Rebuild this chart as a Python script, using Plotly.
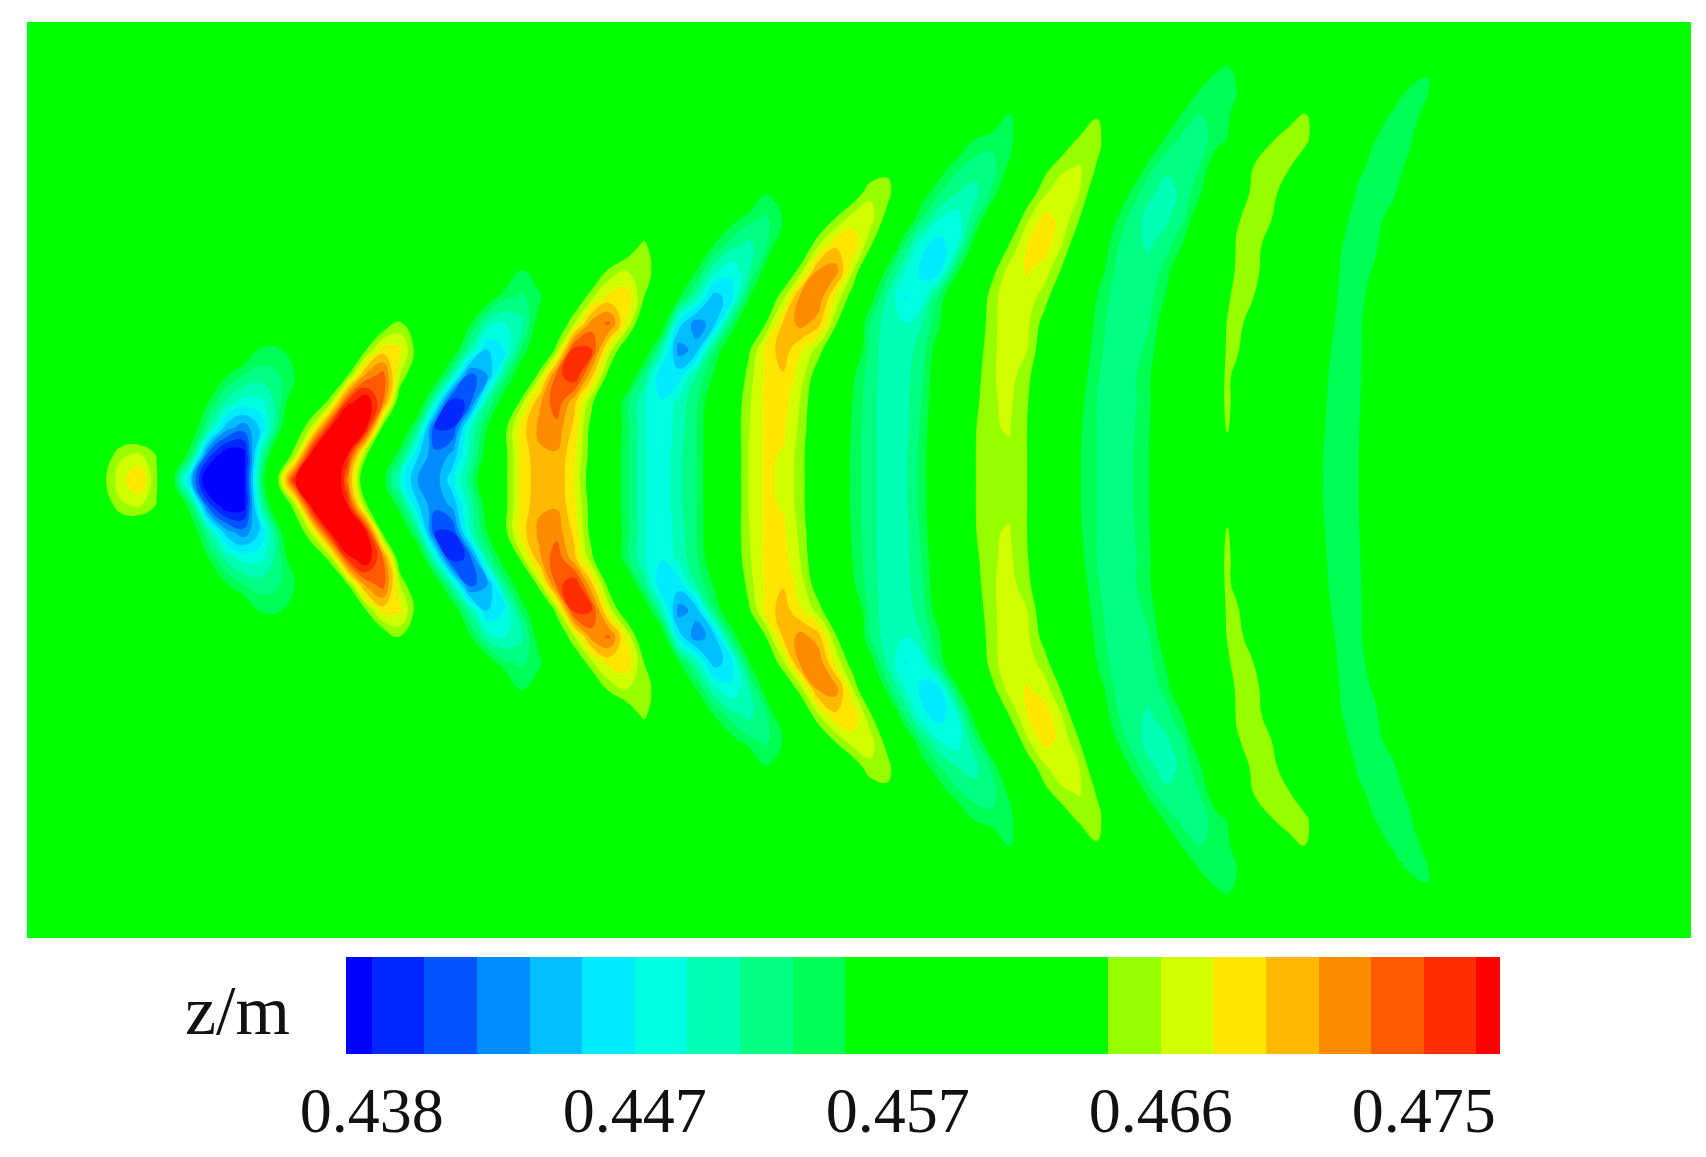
import plotly.graph_objects as go

# Band boundaries of the legend
LEVEL_START = 0.438
LEVEL_STEP = 0.00185
BASE = 0.4602
LEGEND_MIN = 0.43709
LEGEND_MAX = 0.47768
TICK_VALUES = [0.438, 0.44725, 0.4565, 0.46575, 0.475]
TICK_LABELS = ["0.438", "0.447", "0.457", "0.466", "0.475"]
BAND_COLORS = ["#0000ff", "#0028ff", "#0055ff", "#008cff", "#00beff", "#00ebff", "#00ffe1", "#00ffb4",
               "#00ff82", "#00ff55", "#00ff00", "#00ff00", "#00ff00", "#00ff00", "#00ff00",
               "#96ff00", "#d2ff00", "#ffe600", "#ffb900", "#ff8c00", "#ff5a00", "#ff2d00", "#ff0000"]

# Sampling columns (distance along the flume) and rows (distance from the centre line)
COLS = [25, 80, 96, 112, 128, 144, 160, 176, 192, 208, 224, 240, 256, 272, 288, 304, 320, 336, 352, 368, 384,
        400, 416, 432, 448, 464, 480, 496, 512, 528, 544, 560, 576, 592, 608, 624, 640, 656, 672, 688, 704,
        720, 736, 752, 768, 784, 800, 816, 832, 848, 864, 880, 896, 912, 928, 944, 960, 976, 992, 1008, 1024,
        1040, 1056, 1072, 1088, 1104, 1120, 1128, 1136, 1152, 1168, 1184, 1200, 1216, 1232, 1248, 1264, 1280,
        1296, 1312, 1328, 1344, 1554]
OFFSETS = [0, 24, 48, 72, 96, 120, 144, 168, 192, 216, 240, 264, 288, 312, 336, 360, 384, 421]

# Surface height, as band steps from the still level; unlisted columns are 0
R0 = {96:1.8,112:3.7,128:5,144:2.2,160:-2.8,176:-8.7,192:-14,208:-15,224:-12.5,240:-4.2,256:2,272:9.5,288:13,304:13,320:6.5,
      352:-2.4,368:-6.4,384:-9,400:-9.6,416:-7.3,432:-4.5,448:-1,464:1.6,480:4.4,496:5.6,512:5.8,528:4,544:1,
      560:-1.5,576:-3.7,592:-5.9,608:-6.8,624:-5.3,640:-4,656:-1.5,672:0.6,688:3,704:4.2,720:3.8,736:2.5,752:0.3,
      768:-1,784:-3.4,800:-4.7,816:-5.5,832:-5.2,848:-3.5,864:-1,880:0.5,896:1.95,912:2.8,928:2.8,944:2,960:0.5,
      976:-0.5,992:-2.9,1008:-4,1024:-4.4,1040:-4.1,1056:-3,1072:-0.8,1104:0.3,1120:1.2,1128:1.5,1136:1.2,1152:0.3,
      1200:-0.8,1216:-3,1232:-3.6,1248:-3.1,1264:-0.8}
R24 = {96:1,112:2.8,128:3.1,144:1.9,160:-0.5,176:-3.8,192:-10.5,208:-12.8,224:-12.5,240:-5.5,256:-0.5,272:2.8,288:10,304:13,320:9,336:2.4,
       352:-1,368:-3.6,384:-7.8,400:-9.8,416:-8.8,432:-5.5,448:-2.2,464:1.6,480:4.4,496:5.8,512:5.9,528:4.2,544:1.3,
       560:-1.5,576:-3.7,592:-5.9,608:-6.8,624:-5.3,640:-4,656:-1.5,672:0.6,688:3,704:4.2,720:3.9,736:2.5,752:0.3,
       768:-1,784:-3.4,800:-4.7,816:-5.5,832:-5.2,848:-3.5,864:-1,880:0.5,896:1.95,912:2.9,928:2.9,944:2,960:0.5,
       976:-0.5,992:-2.9,1008:-4,1024:-4.4,1040:-4.1,1056:-3,1072:-0.8,1104:0.3,1120:1.2,1128:1.6,1136:1.2,1152:0.3,
       1200:-0.8,1216:-3,1232:-3.6,1248:-3.1,1264:-0.8}
R48 = {176:-1.8,192:-5,208:-8.5,224:-9.6,240:-7.8,256:-3.8,272:0.5,288:3.5,304:9.2,320:12.5,336:9.5,352:1.5,368:-1,384:-4.5,
       400:-11,416:-11,432:-6,448:-3,464:1.6,480:4.6,496:6.3,512:6.6,528:4.7,544:1.4,
       560:-1.3,576:-3.6,592:-5.9,608:-6.9,624:-5.5,640:-4,656:-1.6,672:0.8,688:2.9,704:4.2,720:4.2,736:2.7,752:0.5,
       768:-0.8,784:-3.3,800:-4.7,816:-5.5,832:-5.3,848:-3.7,864:-1.2,880:0.4,896:1.9,912:2.95,928:3.05,944:2,960:0.4,
       976:-0.4,992:-2.8,1008:-4,1024:-4.4,1040:-4.2,1056:-3.1,1072:-1,1120:1.5,1128:2.1,1136:1.5,
       1200:-0.6,1216:-2.9,1232:-3.7,1248:-3.2,1264:-0.9}
R72 = {176:-0.5,192:-3,208:-5.2,224:-6.4,240:-6.3,256:-4.5,272:-1.3,288:0.3,304:2.5,320:8.5,336:10,352:7,368:0.5,384:-1,
       400:-6,416:-12,432:-10.5,448:-5,464:-2,480:2.7,496:5.8,512:7.8,528:5.3,544:2.3,
       560:-1,576:-3.7,592:-5.9,608:-6.9,624:-5.7,640:-4.2,656:-1.8,672:0.7,688:2.8,704:4.3,720:4.5,736:2.9,752:0.7,
       768:-0.5,784:-3.1,800:-4.7,816:-5.5,832:-5.3,848:-3.9,864:-1.3,880:0.3,896:1.7,912:2.9,928:3.2,944:2.1,960:0.5,
       976:-0.3,992:-2.6,1008:-4,1024:-4.4,1040:-4.3,1056:-3.2,1072:-1.1,1120:1.5,1128:2.3,1136:1.5,1152:0.2,
       1200:-0.5,1216:-2.8,1232:-3.7,1248:-3.3,1264:-1}
R96 = {192:-0.3,208:-2.9,224:-4,240:-4.5,256:-4.1,272:-2.9,288:-0.3,320:2,336:6.3,352:7.5,368:3,
       400:-1.5,416:-5.5,432:-10.5,448:-9,464:-4.5,480:-1.5,496:2.7,512:7.5,528:9,544:5.2,560:1.3,
       576:-1.3,592:-4.5,608:-8,624:-7.5,640:-5,656:-2.9,672:-0.3,688:2.5,704:4.2,720:4.9,736:3.5,752:1.1,
       784:-2.8,800:-4.6,816:-5.5,832:-5.4,848:-4.1,864:-1.5,896:1.5,912:2.9,928:3.4,944:2.4,960:0.5,
       992:-2.2,1008:-3.9,1024:-4.5,1040:-4.3,1056:-3.2,1072:-1.1,1120:1.4,1128:2.3,1136:1.6,1152:0.3,
       1200:-0.4,1216:-2.7,1232:-3.7,1248:-3.4,1264:-1.1}
R120 = {224:-1.5,240:-3.2,256:-3.3,272:-1.5,336:1.8,352:4.5,368:4.3,384:1.3,
        416:-1.8,432:-5.2,448:-8,464:-7,480:-3.8,496:-1,512:2.5,528:8.5,544:8,560:3.5,576:0.6,
        592:-1.5,608:-5.3,624:-9.5,640:-8.6,656:-4.2,672:-1.4,688:1.7,704:4.3,720:5.6,736:4.1,752:2.6,768:0.3,
        784:-1.2,800:-4.4,816:-5.6,832:-5.6,848:-4.4,864:-2,896:1.2,912:2.8,928:3.6,944:3,960:1,
        992:-1.7,1008:-3.7,1024:-4.5,1040:-4.5,1056:-3.7,1072:-1.4,1120:1.2,1128:2.2,1136:2.3,1152:0.6,
        1200:-0.3,1216:-2.4,1232:-3.7,1248:-3.5,1264:-1.2}
R144 = {352:0.8,368:2.1,384:0.5,432:-2.8,448:-5.5,464:-6,480:-5.2,496:-2.2,512:0.3,528:3,544:6.5,560:7.2,576:3.8,592:0.3,
        608:-1.6,624:-7.5,640:-9.6,656:-8.5,672:-4,688:-0.8,704:2,720:5.2,736:6.4,752:5.5,768:2.2,
        784:-1,800:-4,816:-5.7,832:-6,848:-5,864:-3,880:-0.8,896:0.8,912:2.7,928:3.7,944:3.2,960:1.5,
        992:-1,1008:-3.4,1024:-4.6,1040:-4.7,1056:-4.1,1072:-2,1120:1.1,1128:2.1,1136:2.5,1152:1.3,
        1216:-1.8,1232:-3.6,1248:-3.5,1264:-1.3}
R168 = {448:-2,464:-3.8,480:-4.2,496:-3.3,512:-0.6,528:0.4,544:2.8,560:4.4,576:4.7,592:2,
        624:-2.8,640:-5.6,656:-8.5,672:-7.5,688:-3.2,704:0.3,720:2.8,736:6.4,752:6.8,768:3.8,784:1.2,
        800:-2.4,816:-5.2,832:-7.1,848:-6.5,864:-3.6,880:-1,896:0.4,912:2.6,928:3.8,944:3.6,960:2.5,976:0.6,
        992:-0.4,1008:-3,1024:-4.4,1040:-4.8,1056:-4.4,1072:-2.8,1088:-0.4,1120:0.3,1128:1.7,1136:2.6,1152:2,
        1216:-1.2,1232:-3.4,1248:-3.7,1264:-2}
R192 = {464:-1,480:-3.1,496:-1.5,560:2.3,576:3,592:3,608:0.6,640:-3,656:-5.7,672:-6.8,688:-5.3,704:-2.3,
        720:0.3,736:2.6,752:6.2,768:6.5,784:3,800:-0.5,816:-3.6,832:-6,848:-7.3,864:-7.1,880:-3.2,896:-0.4,
        912:1.6,928:3.5,944:4.1,960:3.5,976:1.8,1008:-2.2,1024:-4,1040:-4.8,1056:-4.8,1072:-3.5,1088:-0.9,
        1128:0.6,1136:2.3,1152:2.6,1168:0.8,1216:-0.6,1232:-3.1,1248:-3.8,1264:-2.7,1280:-0.3}
R216 = {576:1,592:2.3,608:0.5,640:-0.5,656:-3,672:-4.6,688:-5.3,704:-4.2,720:-1.4,736:0.2,752:2.9,768:4.8,784:4.7,800:2.2,816:-0.6,
        832:-4.2,848:-6.8,864:-7.5,880:-6,896:-2.2,928:2.1,944:4,960:4.6,976:3,992:0.8,
        1008:-1,1024:-3.7,1040:-4.8,1056:-5.1,1072:-4.5,1088:-2.8,1104:-0.5,1128:0.3,1136:2.1,1152:2.7,1168:1.2,
        1216:-0.3,1232:-2.9,1248:-3.8,1264:-3.3,1280:-1}
R240 = {592:0.5,672:-2.4,688:-3.7,704:-4.2,720:-2.9,736:-0.4,752:0.2,768:2.1,784:3.6,800:3.4,816:1.4,
        832:-1.5,848:-4.1,864:-6,880:-6.5,896:-4.3,912:-1.2,928:0.4,944:2.8,960:4.4,976:3.7,992:2,
        1024:-2.7,1040:-4.4,1056:-5.4,1072:-5.2,1088:-4.1,1104:-1.2,1136:1.8,1152:2.6,1168:2.1,1184:0.3,
        1232:-2.3,1248:-3.8,1264:-3.7,1280:-2.1}
R264 = {688:-0.5,704:-2.9,720:-2.6,784:1,800:2.8,816:2.4,848:-2.3,864:-4,880:-5,896:-5.4,912:-3.8,928:-0.7,
        944:1,960:2.8,976:3.8,992:3,1008:0.9,1024:-0.5,1040:-3.3,1056:-4.8,1072:-5.4,1088:-4.7,1104:-3,1120:-0.5,
        1136:0.7,1152:2.4,1168:2.6,1184:1,1232:-0.6,1248:-3.3,1264:-3.9,1280:-3.4,1296:-1.2}
R288 = {800:0.8,816:1.7,864:-2.2,880:-3.8,896:-4.5,912:-4.4,928:-2.7,960:1.5,976:2.7,992:3.1,1008:1.9,
        1040:-0.6,1056:-3.6,1072:-4.8,1088:-4.9,1104:-3.9,1120:-1.4,1128:-0.7,1152:2,1168:2.7,1184:2.2,1200:0.3,
        1248:-2.4,1264:-3.8,1280:-3.8,1296:-2.5}
R312 = {880:-1.3,896:-3.2,912:-3.7,928:-3.5,944:-0.8,976:1,992:2.3,1008:2.5,1024:0.6,
        1056:-1,1072:-3.4,1088:-4.4,1104:-4.4,1120:-3.4,1128:-2.9,1136:-1.3,1152:0.3,1168:1.9,1184:2.6,1200:2.4,
        1248:-0.3,1264:-3,1280:-3.8,1296:-3.2,1312:-0.8}
R336 = {912:-1.5,928:-3.1,944:-1,992:0.3,1008:1.9,1024:0.5,1072:-1,1088:-3.3,1104:-4,1120:-3.6,1128:-3.4,1136:-2.2,1184:1.4,1200:2.05,
        1264:-1.5,1280:-3.3,1296:-3.6,1312:-2.5}
R360 = {1088:-0.8,1104:-3,1120:-3.4,1128:-3.5,1136:-3.1,1280:-1.5,1296:-3.1,1312:-3.2,1328:-0.3}
R384 = {1120:-2.8,1128:-2.9,1136:-2,1296:-1.5,1312:-2.7}
R421 = {}
ROWS = [R0, R24, R48, R72, R96, R120, R144, R168, R192, R216, R240, R264, R288, R312, R336, R360, R384, R421]

W, H = 1706, 1157
PLOT_L, PLOT_R, PLOT_T, PLOT_B = 27, 1691, 22, 938
BAR_L, BAR_R, BAR_T, BAR_B = 346, 1500, 957, 1054

zmin = LEVEL_START - LEVEL_STEP
zmax = LEVEL_START + 22 * LEVEL_STEP
n = len(BAND_COLORS)
scale = []
for i, c in enumerate(BAND_COLORS):
    scale += [[i / n, c], [(i + 1) / n, c]]

half = [[BASE + LEVEL_STEP * row.get(x, 0) for x in COLS] for row in ROWS]
ys = [-o for o in OFFSETS[:0:-1]] + OFFSETS
z = half[:0:-1] + half

fig = go.Figure()
fig.add_trace(go.Contour(
    x=COLS, y=ys, z=z, colorscale=scale, zmin=zmin, zmax=zmax, zauto=False, autocontour=False,
    contours=dict(start=LEVEL_START, end=LEVEL_START + 21 * LEVEL_STEP, size=LEVEL_STEP, coloring="fill", showlines=False),
    line=dict(width=0, smoothing=1.3), showscale=False, hoverinfo="skip", xaxis="x", yaxis="y"))

edges = [LEGEND_MIN] + [LEVEL_START + i * LEVEL_STEP for i in range(22)] + [LEGEND_MAX]
mids = [(a + b) / 2 for a, b in zip(edges[:-1], edges[1:])]
fig.add_trace(go.Heatmap(x=edges, y=[0, 1], z=[mids], colorscale=scale, zmin=zmin, zmax=zmax, zauto=False,
                         showscale=False, hoverinfo="skip", xaxis="x2", yaxis="y2"))

fig.update_layout(
    width=W, height=H, margin=dict(l=0, r=0, t=0, b=0, autoexpand=False), paper_bgcolor="white", plot_bgcolor="white", showlegend=False,
    font=dict(family="Liberation Serif", color="#111111"),
    xaxis=dict(domain=[PLOT_L / W, PLOT_R / W], range=[25, 1554], visible=False),
    yaxis=dict(domain=[1 - PLOT_B / H, 1 - PLOT_T / H], range=[-421, 421], visible=False),
    xaxis2=dict(domain=[BAR_L / W, BAR_R / W], range=[LEGEND_MIN, LEGEND_MAX], anchor="y2", tickmode="array",
                tickvals=TICK_VALUES, ticktext=TICK_LABELS, ticks="outside", ticklen=0, tickcolor="rgba(0,0,0,0)",
                showgrid=False, zeroline=False, showline=False, tickfont=dict(family="Liberation Serif", size=64, color="#111111")),
    yaxis2=dict(domain=[1 - BAR_B / H, 1 - BAR_T / H], range=[0, 1], anchor="x2", visible=False),
    annotations=[dict(text="z/m", xref="paper", yref="paper", x=237 / W, y=1 - 1010 / H, xanchor="center", yanchor="middle",
                      showarrow=False, font=dict(family="Liberation Serif", size=70, color="#111111"))],
)
fig.write_html("out.html", config={"displayModeBar": False},
               post_script="document.body.style.margin='0';document.documentElement.style.overflow='hidden';")
